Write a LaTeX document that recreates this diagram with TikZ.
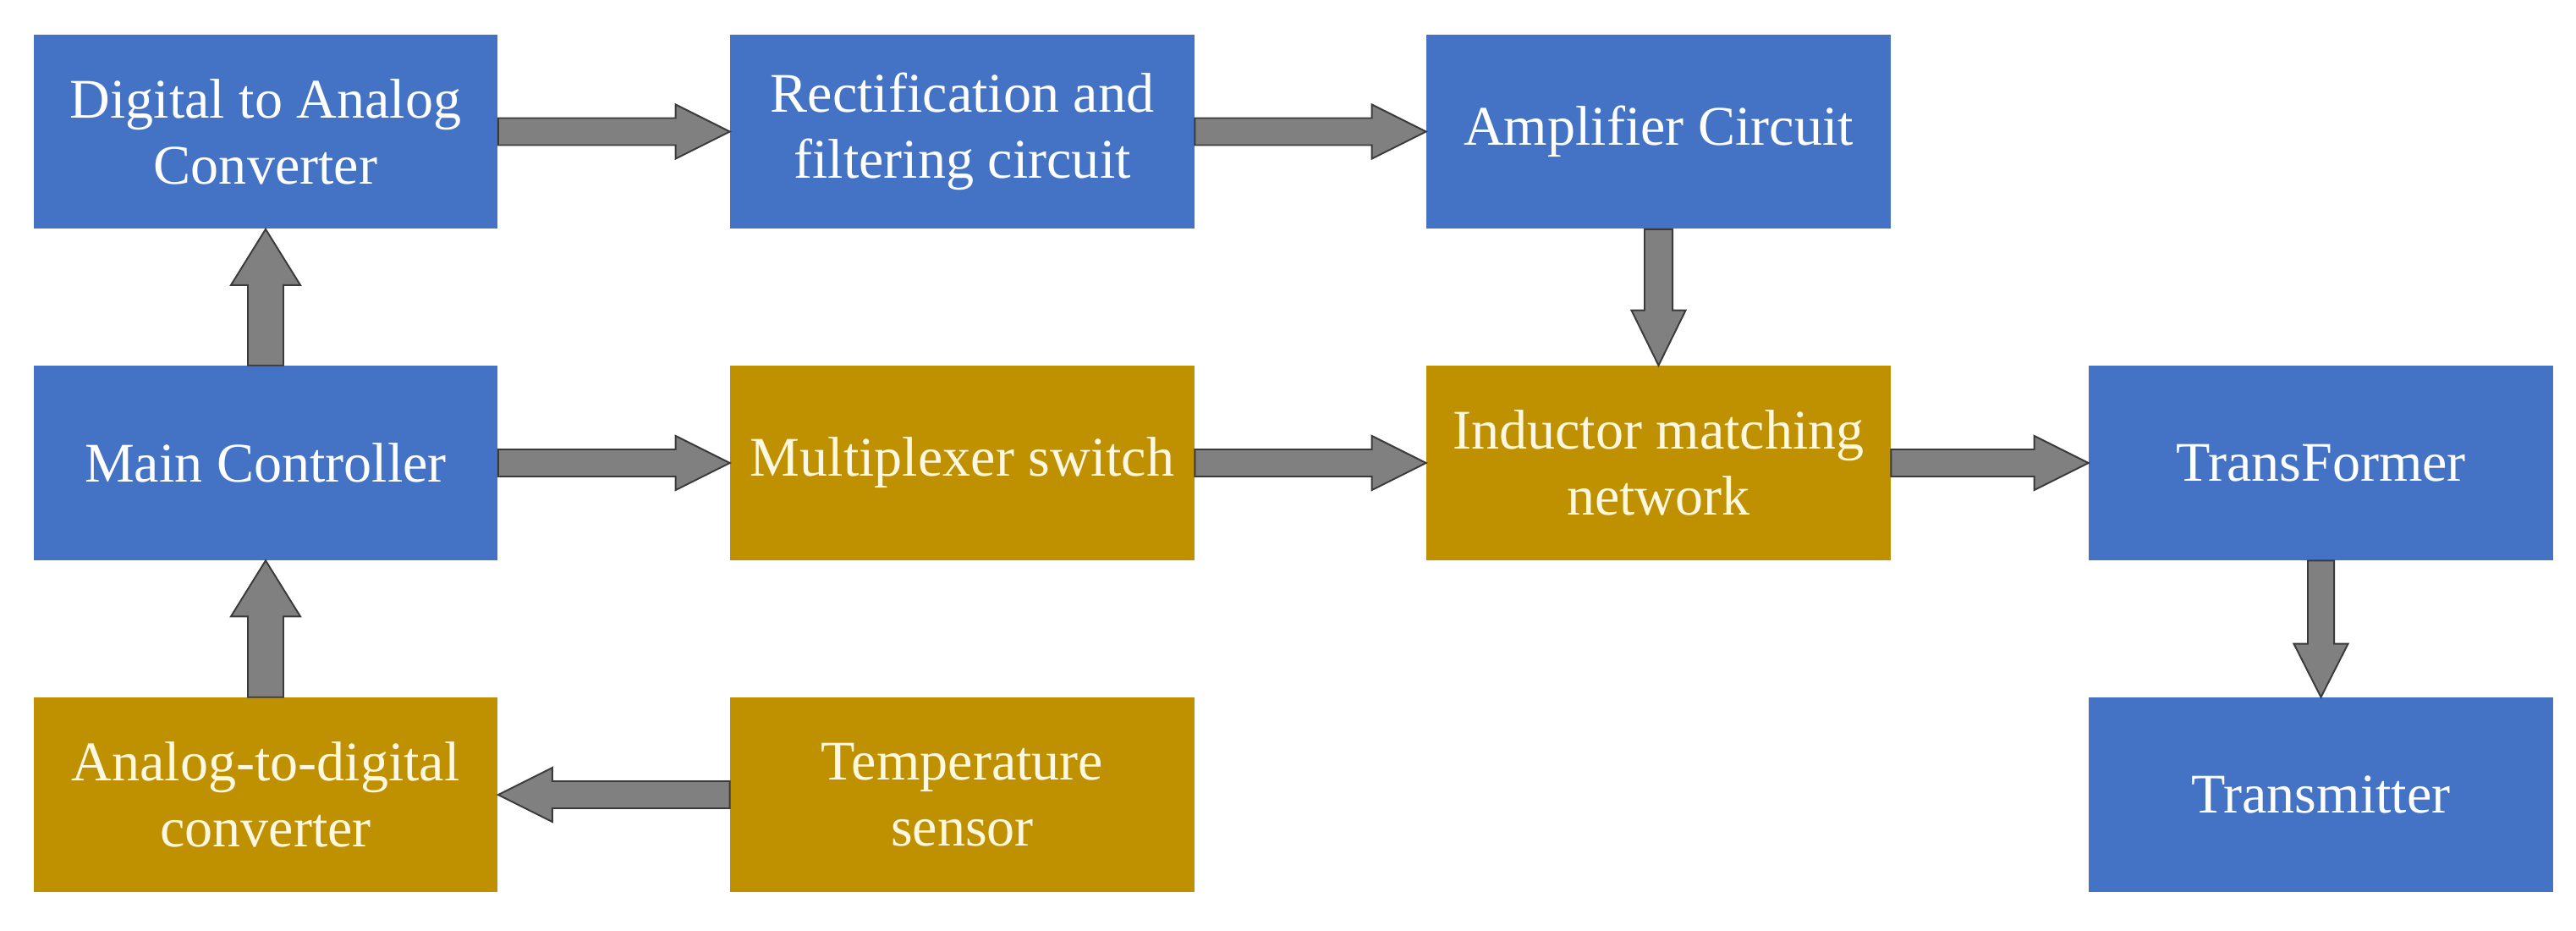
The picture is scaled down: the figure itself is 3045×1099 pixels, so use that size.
\documentclass[tikz,border=0pt]{standalone}
\usepackage{fontspec}
\setmainfont{Liberation Serif}
\usetikzlibrary{calc}
\definecolor{boxblue}{HTML}{4472C4}
\definecolor{boxgold}{HTML}{BF9000}
\definecolor{goldtext}{HTML}{FFF8E1}
\definecolor{arrowfill}{HTML}{808080}
\definecolor{arrowedge}{HTML}{3A3A3A}
\tikzset{
  blockbox/.style={rectangle, minimum width=5.48cm, minimum height=2.29cm, inner sep=0pt,
    align=center, font=\fontsize{18.8pt}{22.2pt}\selectfont},
  bluebox/.style={blockbox, fill=boxblue, text=white},
  goldbox/.style={blockbox, fill=boxgold, text=goldtext},
  arrowsty/.style={fill=arrowfill, draw=arrowedge, line width=0.55pt, line join=miter}
}
% #1 start, #2 tip, #3 shaft half width, #4 head half width, #5 head length
\newcommand{\blockarrow}[5]{%
  \coordinate (bh) at ($(#2)!#5!(#1)$);
  \filldraw[arrowsty] ($(#1)!#3!90:(#2)$) -- ($(bh)!#3!90:(#2)$) -- ($(bh)!#4!90:(#2)$) -- (#2)
    -- ($(bh)!#4!-90:(#2)$) -- ($(bh)!#3!-90:(#2)$) -- ($(#1)!#3!-90:(#2)$) -- cycle;}
\begin{document}
\begin{tikzpicture}[x=0.01cm, y=-0.01cm]
\useasboundingbox (0,0) rectangle (3045,1099);
% row 1
\node[bluebox] (dac)  at (314,155.5)    {Digital to Analog\\Converter};
\node[bluebox] (rect) at (1137.5,155.5) {Rectification and\\filtering circuit};
\node[bluebox] (amp)  at (1960.5,155.5) {Amplifier Circuit};
% row 2
\node[bluebox] (mc)   at (314,547)      {Main Controller};
\node[goldbox] (mux)  at (1137.5,547)   {Multiplexer switch};
\node[goldbox] (ind)  at (1960.5,547)   {Inductor matching\\network};
\node[bluebox] (tf)   at (2743.5,547)   {TransFormer};
% row 3
\node[goldbox] (adc)  at (314,939)      {Analog-to-digital\\converter};
\node[goldbox] (temp) at (1137.5,939)   {Temperature\\sensor};
\node[bluebox] (tx)   at (2743.5,939)   {Transmitter};
% connectors
\blockarrow{dac.east}{rect.west}{0.16cm}{0.32cm}{0.64cm}
\blockarrow{rect.east}{amp.west}{0.16cm}{0.32cm}{0.64cm}
\blockarrow{mc.east}{mux.west}{0.16cm}{0.32cm}{0.64cm}
\blockarrow{mux.east}{ind.west}{0.16cm}{0.32cm}{0.64cm}
\blockarrow{ind.east}{tf.west}{0.16cm}{0.32cm}{0.64cm}
\blockarrow{temp.west}{adc.east}{0.16cm}{0.32cm}{0.64cm}
\blockarrow{mc.north}{dac.south}{0.21cm}{0.41cm}{0.66cm}
\blockarrow{adc.north}{mc.south}{0.21cm}{0.41cm}{0.66cm}
\blockarrow{amp.south}{ind.north}{0.165cm}{0.32cm}{0.65cm}
\blockarrow{tf.south}{tx.north}{0.155cm}{0.32cm}{0.63cm}
\end{tikzpicture}
\end{document}
